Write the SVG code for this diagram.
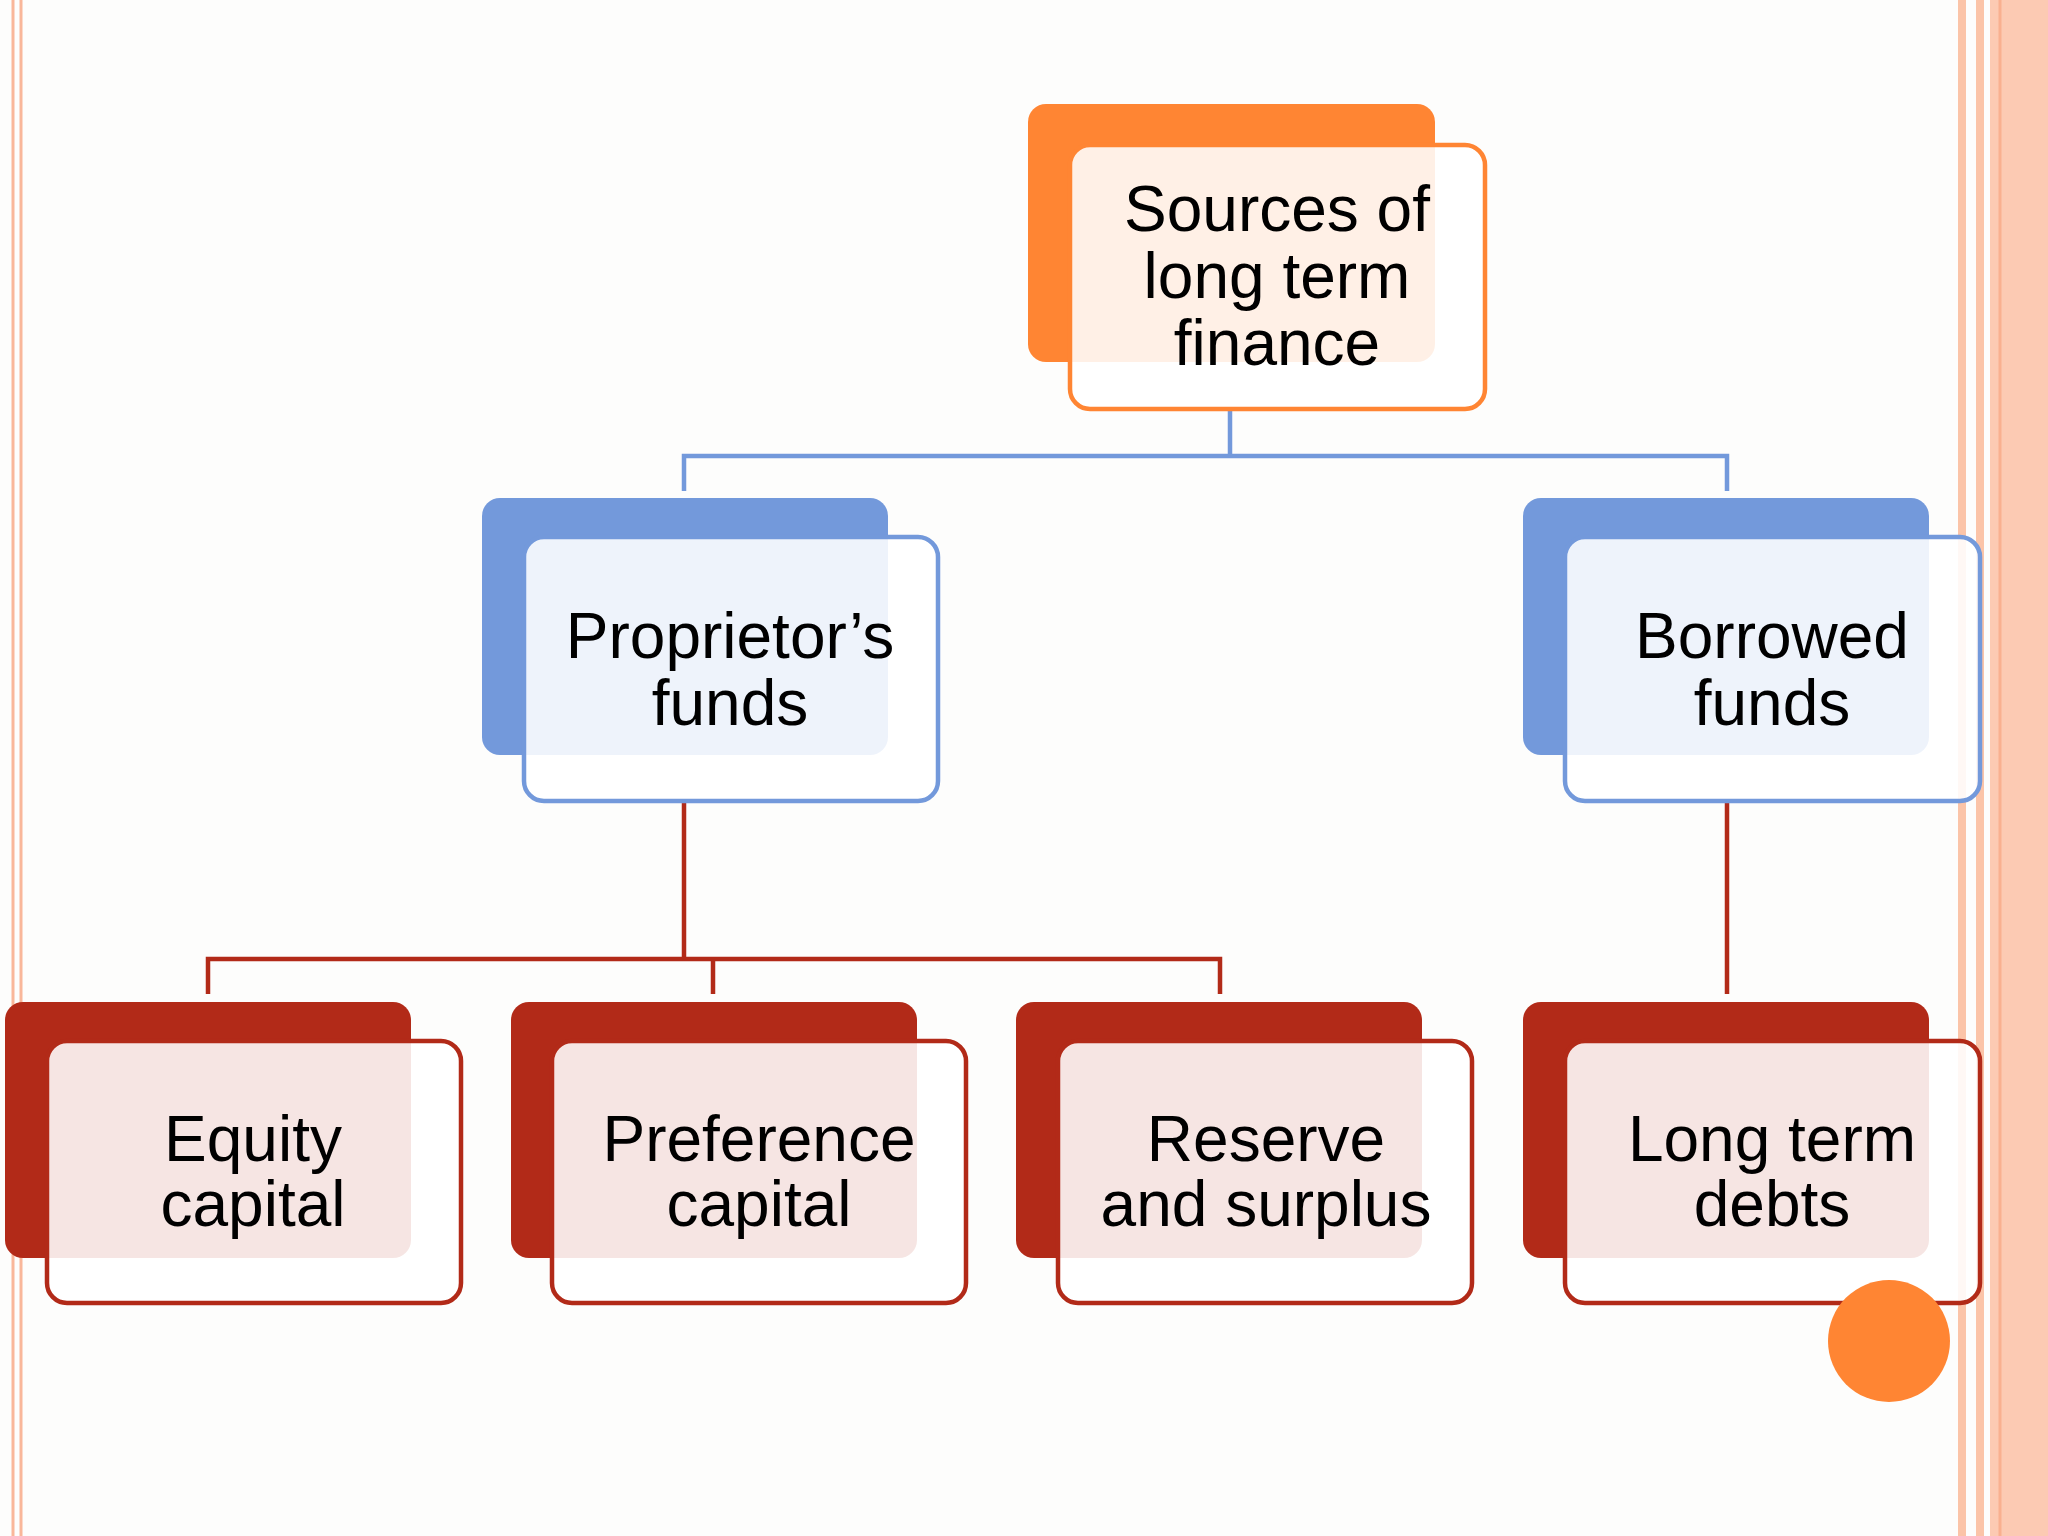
<svg xmlns="http://www.w3.org/2000/svg" width="2048" height="1536" viewBox="0 0 2048 1536">
<style>
.t{font-family:"Liberation Sans",Arial,sans-serif;font-size:64px;fill:#000;text-anchor:middle;dominant-baseline:central}
.f{fill:#fff;fill-opacity:0.88;stroke-width:4.5}
.o{fill:#FF8533}.ob{stroke:#FF8533}
.b{fill:#7399DB}.bb{stroke:#7399DB}
.r{fill:#B22A18}.rb{stroke:#B22A18}
.c{fill:none;stroke-width:4.5}
</style>
<rect width="2048" height="1536" fill="#fdfdfc"/>
<line x1="13" y1="0" x2="13" y2="1536" stroke="#f9b79a" stroke-width="3"/>
<line x1="21" y1="0" x2="21" y2="1536" stroke="#f9b79a" stroke-width="3"/>
<rect x="1958" y="0" width="8" height="1536" fill="#fbc4a8"/>
<rect x="1976" y="0" width="8" height="1536" fill="#fbc4a8"/>
<rect x="1990" y="0" width="58" height="1536" fill="#fccab3"/>
<line x1="2000" y1="0" x2="2000" y2="1536" stroke="#f9b090" stroke-width="3"/>
<g id="connectors">
<path class="c bb" d="M1230 409V456M684 491V456H1727V491"/>
<path class="c rb" d="M684 801V959M208 994V959H1220V994M713 959V994M1727 801V994"/>
</g>
<g id="n0"><rect class="o" x="1028" y="104" width="407" height="258" rx="18"/><rect class="f ob" x="1070" y="145" width="415" height="264" rx="20"/>
<text class="t" x="1277" y="209">Sources of</text><text class="t" x="1277" y="276">long term</text><text class="t" x="1277" y="343">finance</text></g>
<g id="n1"><rect class="b" x="482" y="498" width="406" height="257" rx="18"/><rect class="f bb" x="524" y="537" width="414" height="264" rx="20"/>
<text class="t" x="730" y="636">Proprietor’s</text><text class="t" x="730" y="703">funds</text></g>
<g id="n2"><rect class="b" x="1523" y="498" width="406" height="257" rx="18"/><rect class="f bb" x="1565" y="537" width="415" height="264" rx="20"/>
<text class="t" x="1772" y="636">Borrowed</text><text class="t" x="1772" y="703">funds</text></g>
<g id="n3"><rect class="r" x="5" y="1002" width="406" height="256" rx="18"/><rect class="f rb" x="47" y="1041" width="414" height="262" rx="20"/>
<text class="t" x="253" y="1139">Equity</text><text class="t" x="253" y="1204">capital</text></g>
<g id="n4"><rect class="r" x="511" y="1002" width="406" height="256" rx="18"/><rect class="f rb" x="552" y="1041" width="414" height="262" rx="20"/>
<text class="t" x="759" y="1139">Preference</text><text class="t" x="759" y="1204">capital</text></g>
<g id="n5"><rect class="r" x="1016" y="1002" width="406" height="256" rx="18"/><rect class="f rb" x="1058" y="1041" width="414" height="262" rx="20"/>
<text class="t" x="1266" y="1139">Reserve</text><text class="t" x="1266" y="1204">and surplus</text></g>
<g id="n6"><rect class="r" x="1523" y="1002" width="406" height="256" rx="18"/><rect class="f rb" x="1565" y="1041" width="415" height="262" rx="20"/>
<text class="t" x="1772" y="1139">Long term</text><text class="t" x="1772" y="1204">debts</text></g>
<circle cx="1889" cy="1341" r="61" fill="#FF8533"/>
</svg>
